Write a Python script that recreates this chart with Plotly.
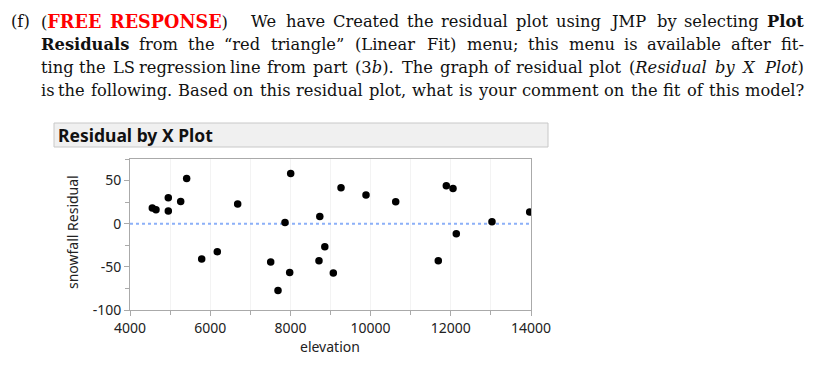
import re
import plotly.graph_objects as go

# ---------------- data ----------------
elevation = [4556, 4648, 4955, 4955, 5264, 5413, 6685, 5788, 6177,
             8007, 9262, 9885, 10626, 8733, 7865, 8858, 7509, 8713,
             7982, 9070, 7691, 11888, 12055, 13027, 13967, 12137, 11688]
residual = [18.1, 16.2, 30.0, 14.7, 25.8, 52.4, 22.8, -40.8, -32.4,
            58.2, 41.6, 33.2, 25.4, 8.5, 1.5, -26.6, -44.3, -42.8,
            -56.6, -57.0, -77.5, 43.9, 40.8, 2.3, 13.5, -11.6, -42.8]
x_ticks = [4000, 6000, 8000, 10000, 12000, 14000]
x_tick_labels = ["4000", "6000", "8000", "10000", "12000", "14000"]
y_ticks = [-100, -50, 0, 50]
y_tick_labels = ["-100", "-50", "0", "50"]

panel_title = "Residual by X Plot"
x_title = "elevation"
y_title = "snowfall Residual"

item_label = "(f)"
para_line1 = ["(<span style=\"color:#ff0000;font-size:17.6px\"><b>FREE\u2002RESPONSE</b></span>)",
              "We", "have", "Created", "the", "residual", "plot", "using", "JMP", "by",
              "selecting", "<b>Plot</b>"]
para_line2 = ["<b>Residuals</b>", "from", "the", "“red", "triangle”", "(Linear", "Fit)",
              "menu;", "this", "menu", "is", "available", "after", "fit-"]
para_line3 = ["ting", "the", "LS", "regression", "line", "from", "part", "(3<i>b</i>).",
              "The", "graph", "of", "residual", "plot", "(<i>Residual</i>", "<i>by</i>",
              "<i>X</i>", "<i>Plot</i>)"]
para_line4 = ["is", "the", "following.", "Based", "on", "this", "residual", "plot,", "what",
              "is", "your", "comment", "on", "the", "fit", "of", "this", "model?"]
para_lines = [para_line1, para_line2, para_line3, para_line4]

# ---------------- layout geometry (pixels, page coordinates) ----------------
W, H = 823, 378
OFF = 8  # default body margin of the html page
L, R, T, B = 130, 531, 159, 310


def px(x):
    return (x - L) / (R - L)


def py(y):
    return (B - y) / (B - T)


# approximate Computer Modern advance widths (em) used to justify the paragraph
CMW = dict(zip("abcdefghijklmnopqrstuvwxyz",
               [.5, .556, .444, .556, .444, .306, .5, .556, .278, .306, .528, .278, .833,
                .556, .5, .556, .528, .392, .394, .389, .556, .528, .722, .528, .528, .444]))
CMW.update(dict(zip("ABCDEFGHIJKLMNOPQRSTUVWXYZ",
                    [.75, .708, .722, .764, .681, .653, .785, .75, .361, .514, .778, .625,
                     .917, .75, .778, .681, .778, .736, .556, .722, .75, .75, 1.028, .75,
                     .75, .611])))
CMW.update({"(": .389, ")": .389, ".": .278, ",": .278, ";": .278, "?": .472,
            "-": .333, " ": .333, "\u2002": .333, "“": .5, "”": .5})
for d in "0123456789":
    CMW[d] = .5
EM = 19.4


def word_width(token):
    plain = re.sub(r"<[^>]+>", "", token)
    w = sum(CMW.get(c, .5) for c in plain)
    if "<b>" in token:
        w *= 1.12
    return w * EM


fig = go.Figure()

fig.add_trace(go.Scatter(
    x=[4000, 14000], y=[0, 0], mode="lines",
    line=dict(color="#8cb0f8", width=2, dash="dot"),
    hoverinfo="skip", showlegend=False))

fig.add_trace(go.Scatter(
    x=elevation, y=residual, mode="markers",
    marker=dict(color="black", size=7.5),
    showlegend=False, cliponaxis=True))

axis_common = dict(
    showline=True, linecolor="#aaaaaa", linewidth=1, mirror=True,
    ticks="outside", ticklen=5, tickcolor="#aaaaaa",
    tickfont=dict(family="Noto Sans", size=14, color="#222222"),
    zeroline=False,
)

fig.update_xaxes(
    range=[4000, 14000], tickvals=x_ticks, ticktext=x_tick_labels,
    showgrid=True, gridcolor="#f3f3f3",
    minor=dict(dtick=1000, tick0=4000, ticks="outside", ticklen=4,
               tickcolor="#aaaaaa", showgrid=True, gridcolor="#f3f3f3"),
    **axis_common)
fig.update_yaxes(
    range=[-100, 75], tickvals=y_ticks, ticktext=y_tick_labels,
    showgrid=False,
    minor=dict(dtick=25, tick0=-100, ticks="outside", ticklen=4,
               tickcolor="#aaaaaa"),
    **axis_common)

annotations = []
serif = dict(family="DejaVu Serif", size=16.3, color="#111111")
line_y = [21, 44, 67, 90]


def ann(x, y, text, font, xanchor="left", **kw):
    d = dict(xref="paper", yref="paper", x=px(x), y=py(y), text=text,
             showarrow=False, xanchor=xanchor, yanchor="middle", font=font)
    d.update(kw)
    return d


annotations.append(ann(9, line_y[0], item_label, serif))
X0, X1 = 40, 805
for i, words in enumerate(para_lines):
    widths = [word_width(w) for w in words]
    gap = (X1 - X0 - sum(widths)) / (len(words) - 1)
    x = X0
    n = len(words)
    for k, (w, wd) in enumerate(zip(words, widths)):
        if k == 0:
            annotations.append(ann(X0 - 1, line_y[i], w, serif, xanchor="left"))
        elif k == n - 1:
            annotations.append(ann(X1 + 1, line_y[i], w, serif, xanchor="right"))
        else:
            annotations.append(ann(x + wd / 2, line_y[i], w, serif, xanchor="center"))
        x += wd + gap

annotations.append(ann(56, 135, "<b>" + panel_title + "</b>",
                       dict(family="Noto Sans", size=17.5, color="#111111")))
annotations.append(ann(330, 346, x_title,
                       dict(family="Noto Sans", size=14, color="#222222"),
                       xanchor="center"))
annotations.append(ann(72, 232, y_title,
                       dict(family="Noto Sans", size=14, color="#222222"),
                       xanchor="center", textangle=-90))

shapes = [dict(type="rect", xref="paper", yref="paper",
               x0=px(54), x1=px(548), y0=py(147), y1=py(123),
               fillcolor="#f0f0f0", line=dict(color="#c8c8c8", width=1),
               layer="below")]

fig.update_layout(
    width=W - OFF, height=H - OFF,
    margin=dict(l=L - OFF, r=W - R, t=T - OFF, b=H - B, pad=0),
    paper_bgcolor="white", plot_bgcolor="white",
    annotations=annotations, shapes=shapes,
    showlegend=False,
)

fig.write_html("out.html")
